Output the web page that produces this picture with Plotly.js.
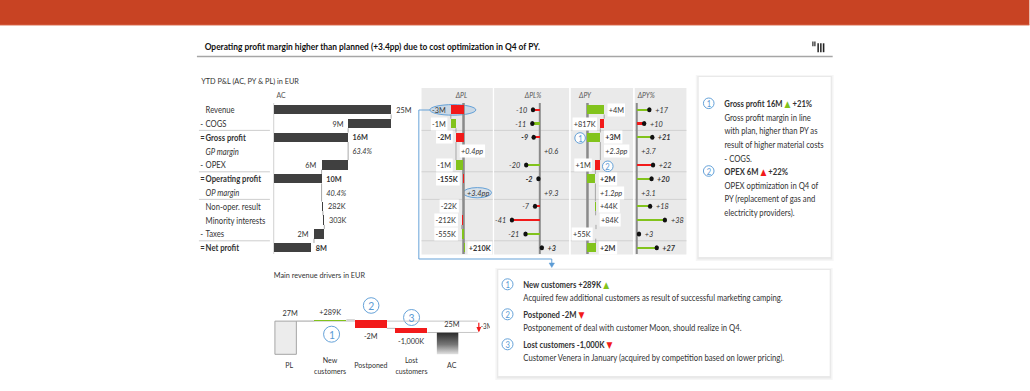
<!DOCTYPE html>
<html><head><meta charset="utf-8">
<script src="https://cdn.plot.ly/plotly-3.0.1.min.js"></script>
<style>html,body{margin:0;padding:0;background:#fff;overflow:hidden;width:1030px;height:391px}#chart{height:391px;transform-origin:0 0}</style>
</head><body><div id="chart"></div>
<script>
// ================= DATA =================
const titleText = 'Operating profit margin higher than planned (+3.4pp) due to cost optimization in Q4 of PY.';
const tableTitle = 'YTD P&L (AC, PY & PL) in EUR';
const colHeaders = ['AC', 'ΔPL', 'ΔPL%', 'ΔPY', 'ΔPY%'];

const rowNames  = ['Revenue','COGS','Gross profit','GP margin','OPEX','Operating profit','OP margin','Non-oper. result','Minority interests','Taxes','Net profit'];
const rowPrefix = ['','-','=','','-','=','','','','-','='];
const rowKind   = ['rel','rel','total','margin','rel','total','margin','rel','rel','rel','total'];
const rowSign   = [1,-1,1,0,-1,1,0,1,1,-1,1];

const acValues  = [24.96, 9.13, 15.83, 63.4, 5.64, 10.19, 40.4, 0.282, 0.303, 2.2, 8.0];
const acLabels  = ['25M','9M','16M','63.4%','6M','10M','40.4%','282K','303K','2M','8M'];

const dPlValues = [-2.7, -1.1, -1.6, 0.4, -1.445, -0.155, 3.4, -0.022, -0.212, -0.555, 0.21];
const dPlLabels = ['-3M','-1M','-2M','+0.4pp','-1M','-155K','+3.4pp','-22K','-212K','-555K','+210K'];
const dPlPct    = [-10, -11, -9, 0.6, -20, -2, 9.3, -7, -41, -21, 3];
const dPlPctLabels = ['-10','-11','-9','+0.6','-20','-2','+9.3','-7','-41','-21','+3'];

const dPyValues = [3.55, 0.817, 2.73, 2.3, 1.05, 1.68, 1.2, 0.044, 0.084, 0.055, 1.72];
const dPyLabels = ['+4M','+817K','+3M','+2.3pp','+1M','+2M','+1.2pp','+44K','+84K','+55K','+2M'];
const dPyPct    = [17, 10, 21, 3.7, 22, 20, 3.1, 18, 38, 3, 27];
const dPyPctLabels = ['+17','+10','+21','+3.7','+22','+20','+3.1','+18','+38','+3','+27'];

const drvTitle  = 'Main revenue drivers in EUR';
const drvCats   = ['PL','New<br>customers','Postponed','Lost<br>customers','AC'];
const drvKind   = ['total','rel','rel','rel','total'];
const drvValues = [27.3, 0.289, -2.0, -1.0, 24.6];
const drvLabels = ['27M','+289K','-2M','-1,000K','25M'];
const drvDiffLabel = '-3M';

const note1Head = ['<b>Gross profit 16M</b> <span style="color:#82c31c">▲</span> <b>+21%</b>', '<b>OPEX 6M</b> <span style="color:#f21a1a">▲</span> <b>+22%</b>'];
const note1Body = [['Gross profit margin in line','with plan, higher than PY as','result of higher material costs','- COGS.'],
                   ['OPEX optimization in Q4 of','PY (replacement of gas and','electricity providers).']];
const note2Head = ['<b>New customers +289K</b> <span style="color:#82c31c">▲</span>',
                   '<b>Postponed -2M</b> <span style="color:#f21a1a">▼</span>',
                   '<b>Lost customers -1,000K</b> <span style="color:#f21a1a">▼</span>'];
const note2Body = ['Acquired few additional customers as result of successful marketing camping.',
                   'Postponement of deal with customer Moon, should realize in Q4.',
                   'Customer Venera in January (acquired by competition based on lower pricing).'];

// ================= FONT CALIBRATION =================
const W = 1030, H = 391;
const ctx = document.createElement('canvas').getContext('2d');
function wid(t, f){ ctx.font = f; return ctx.measureText(t).width; }
function has(name){ const s = 'mmmmmmmmmmlliWWQQ0123abc'; return wid(s, `40px "${name}", monospace`) !== wid(s, '40px monospace'); }
const FAM = ['Lato','Open Sans','Liberation Sans'].find(has) || 'Liberation Sans';
const FCSS = `"${FAM}", "DejaVu Sans", sans-serif`;
const BODY = 8.8;
const S = Math.min(1, 260 / wid(note2Body[0], `${BODY}px ${FCSS}`));
const TITLE = 10 * (336 / S) / wid(titleText, `bold 10px ${FCSS}`);
const FS_VAL = BODY * 0.95;
const PW = W / S;
const sx = v => v / S;

// ================= HELPERS =================
const X = p => p / W, Y = p => 1 - p / H;
const GREEN = '#82c31c', RED = '#f21a1a', BLUE = '#5b9bd5', DARK = '#404040', TXT = '#333333';

const traces = [], shapes = [], anns = [];
function rect(x0, y0, x1, y1, fill, line){ shapes.push({type:'rect', xref:'paper', yref:'paper', x0:X(x0), x1:X(x1), y0:Y(y1), y1:Y(y0), fillcolor:fill, line: line || {width:0}, layer:'below'}); }
function pline(x0, y0, x1, y1, color, width){ shapes.push({type:'line', xref:'paper', yref:'paper', x0:X(x0), y0:Y(y0), x1:X(x1), y1:Y(y1), line:{color, width}, layer:'below'}); }
function T(px, py, text, o){ anns.push(Object.assign({xref:'paper', yref:'paper', x:X(px), y:Y(py), text, showarrow:false, xanchor:'left', yanchor:'middle', font:{size:BODY, color:TXT}}, o || {})); }
function circNum(cx, cy, r, num, fs){
  shapes.push({type:'circle', xref:'paper', yref:'paper', x0:X(cx - r), x1:X(cx + r), y0:Y(cy + r), y1:Y(cy - r), line:{color:BLUE, width:1}, fillcolor:'rgba(255,255,255,0.9)', layer:'below'});
  T(cx, cy, String(num), {xanchor:'center', font:{size:fs, color:BLUE}});
}
function hAxis(pxL, pxR, pxZero, ppu){ return {domain:[X(pxL), X(pxR)], range:[(pxL - pxZero) / ppu, (pxR - pxZero) / ppu], visible:false, fixedrange:true, anchor:'y'}; }

// ================= PAGE DECORATION =================
rect(0, 0, W, 25, '#c84323');
pline(0, 25, W, 25, '#d8674a', 1);
T(203, 46, `<b>${titleText}</b>`, {font:{size:TITLE, color:'#111'}});
pline(197, 56.5, 833, 56.5, '#a6a6a6', 1.5);
[[812.6,41.5,813.8,46.3],[814.6,41.5,815.8,46.3],[817.7,43.3,819.2,52.2],[820.4,43.3,821.9,52.2],[823.1,43.3,824.7,52.2]].forEach(r => rect(r[0], r[1], r[2], r[3], '#222'));

const panels = [[421.7,493],[494.3,569.3],[571,633.3],[635,686.7]];
panels.forEach(p => rect(p[0], 88, p[1], 254.5, '#eaeaea'));

const SEP = [1.5, 4.5, 6.5, 9.5];
SEP.forEach(s => {
  shapes.push({type:'line', xref:'paper', yref:'y', x0:X(199), x1:X(270), y0:s, y1:s, line:{color:'#c9c9c9', width:1}, layer:'below'});
  panels.forEach(p => shapes.push({type:'line', xref:'paper', yref:'y', x0:X(p[0]), x1:X(p[1]), y0:s, y1:s, line:{color:'#cfcfcf', width:1}, layer:'below'}));
});

shapes.push({type:'circle', xref:'paper', yref:'paper', x0:X(430), x1:X(476), y0:Y(115.2), y1:Y(104.6), line:{color:BLUE, width:1}, fillcolor:'rgba(91,155,213,0.22)', layer:'below'});
shapes.push({type:'circle', xref:'paper', yref:'paper', x0:X(463.3), x1:X(491.7), y0:Y(197.8), y1:Y(187.6), line:{color:BLUE, width:1}, fillcolor:'rgba(91,155,213,0.12)', layer:'below'});
shapes.push({type:'path', xref:'paper', yref:'paper', path:`M ${X(430)},${Y(110)} L ${X(419)},${Y(110)} L ${X(419)},${Y(259)} L ${X(552)},${Y(259)} L ${X(552)},${Y(263)}`, line:{color:BLUE, width:1}, layer:'below'});
shapes.push({type:'path', xref:'paper', yref:'paper', path:`M ${X(549.3)},${Y(263)} L ${X(554.7)},${Y(263)} L ${X(552)},${Y(267.5)} Z`, fillcolor:BLUE, line:{color:BLUE, width:0.5}, layer:'below'});

function card(x0, y0, x1, y1){
  rect(x0 - 3, y0 - 2, x1 + 3, y1 + 4, 'rgba(0,0,0,0.035)');
  rect(x0 - 1.5, y0 - 1, x1 + 1.5, y1 + 2.5, 'rgba(0,0,0,0.05)');
  rect(x0, y0, x1, y1, '#ffffff');
}
card(699, 77, 831, 257);
card(498.5, 270, 830, 376);

// ================= HEADERS / ROW LABELS =================
T(199.3, 80.7, tableTitle, {font:{size:BODY * 0.95, color:TXT}});
T(275, 95, colHeaders[0], {font:{size:BODY * 0.9, color:'#555'}});
[[461, 1], [533, 2], [585, 3], [646, 4]].forEach(h => T(h[0], 95, `<i>${colHeaders[h[1]]}</i>`, {xanchor:'center', font:{size:BODY * 0.88, color:'#555'}}));

rowNames.forEach((n, i) => {
  const k = rowKind[i];
  const txt = k === 'total' ? `<b>${n}</b>` : (k === 'margin' ? `<i>${n}</i>` : n);
  anns.push({xref:'paper', yref:'y', x:X(204), y:i, text:txt, showarrow:false, xanchor:'left', yanchor:'middle', font:{size:BODY, color:TXT}});
  if (rowPrefix[i]) anns.push({xref:'paper', yref:'y', x:X(198.4), y:i, text: k === 'total' ? `<b>${rowPrefix[i]}</b>` : rowPrefix[i], showarrow:false, xanchor:'left', yanchor:'middle', font:{size:BODY, color:TXT}});
});

// ================= ROW WATERFALLS =================
function rowWaterfall(values){
  let run = 0;
  return values.map((v, i) => {
    const k = rowKind[i];
    if (k === 'margin') return {i, margin:true, at:run};
    let base, end, eff;
    if (k === 'total') { base = 0; end = v; eff = v; }
    else { eff = rowSign[i] * v; base = run; end = run + eff; }
    run = end;
    return {i, v, base, end, eff};
  });
}
const BAR_H = 0.69;
function wfBars(wf, xa, colorFn){
  const r = wf.filter(d => !d.margin);
  traces.push({type:'bar', orientation:'h', xaxis:xa, yaxis:'y', y:r.map(d => d.i), x:r.map(d => d.end - d.base), base:r.map(d => d.base),
    width:BAR_H, marker:{color:r.map(colorFn), line:{width:0}}, hoverinfo:'skip'});
  for (let k = 0; k < r.length - 1; k++) {
    const a = r[k], b = r[k + 1];
    shapes.push({type:'line', xref:xa, yref:'y', x0:a.end, x1:a.end, y0:a.i + BAR_H / 2, y1:b.i - BAR_H / 2, line:{color:'#9a9a9a', width:sx(0.8)}, layer:'below'});
  }
}
function wfLabels(wf, labels, xa, mode, noBg){
  wf.forEach(d => {
    const lab = labels[d.i];
    const clear = mode === 'ac' || (noBg && noBg.includes(d.i));
    const common = {xref:xa, yref:'y', y:d.i, showarrow:false, yanchor:'middle', borderpad:1,
      bgcolor: clear ? 'rgba(0,0,0,0)' : '#ffffff', font:{size:FS_VAL, color:TXT}};
    if (d.margin) { anns.push(Object.assign(common, {x:d.at, xanchor:'left', xshift:sx(3), text:`<i>${lab}</i>`})); return; }
    const total = rowKind[d.i] === 'total';
    const left = mode === 'ac' ? (!total && d.eff < 0) : (d.v < 0 || d.eff < 0);
    anns.push(Object.assign(common, {x: left ? Math.min(d.base, d.end) : Math.max(d.base, d.end), xanchor: left ? 'right' : 'left',
      xshift: sx(left ? -3 : 3), text: total ? `<b>${lab}</b>` : lab}));
  });
}
function zeroLine(xa, color, width){
  shapes.push({type:'line', xref:xa, yref:'paper', x0:0, x1:0, y0:Y(254), y1:Y(103), line:{color, width:sx(width)}, layer:'below'});
}

const acWf = rowWaterfall(acValues);
zeroLine('x', '#9a9a9a', 1);
wfBars(acWf, 'x', () => DARK);
wfLabels(acWf, acLabels, 'x', 'ac');

const plWf = rowWaterfall(dPlValues);
zeroLine('x2', '#8a8a8a', 2.5);
wfBars(plWf, 'x2', d => d.eff >= 0 ? GREEN : RED);
wfLabels(plWf, dPlLabels, 'x2', 'd', [0, 6]);

const pyWf = rowWaterfall(dPyValues);
zeroLine('x4', '#8a8a8a', 2.5);
wfBars(pyWf, 'x4', d => d.eff >= 0 ? GREEN : RED);
wfLabels(pyWf, dPyLabels, 'x4', 'd');

function lolli(vals, labels, xa){
  zeroLine(xa, '#8a8a8a', 2);
  const pts = vals.map((v, i) => ({v, i})).filter(d => rowKind[d.i] !== 'margin');
  const eff = d => rowKind[d.i] === 'total' ? d.v : rowSign[d.i] * d.v;
  traces.push({type:'bar', orientation:'h', xaxis:xa, yaxis:'y', y:pts.map(d => d.i), x:pts.map(d => d.v), base:0, width:0.15,
    marker:{color:pts.map(d => eff(d) >= 0 ? GREEN : RED), line:{width:0}}, hoverinfo:'skip'});
  traces.push({type:'scatter', mode:'markers', xaxis:xa, yaxis:'y', y:pts.map(d => d.i), x:pts.map(d => d.v),
    marker:{size:5, color:'#111'}, hoverinfo:'skip'});
  vals.forEach((v, i) => {
    const k = rowKind[i];
    if (k === 'margin') { anns.push({xref:xa, yref:'y', x:0, y:i, xanchor:'left', xshift:sx(3), yanchor:'middle', showarrow:false, text:`<i>${labels[i]}</i>`, font:{size:FS_VAL, color:TXT}}); return; }
    const t = k === 'total' ? `<b><i>${labels[i]}</i></b>` : `<i>${labels[i]}</i>`;
    anns.push({xref:xa, yref:'y', x:v, y:i, xanchor: v < 0 ? 'right' : 'left', xshift: sx(v < 0 ? -4 : 4), yanchor:'middle', showarrow:false, text:t, font:{size:FS_VAL, color:TXT}});
  });
}
lolli(dPlPct, dPlPctLabels, 'x3');
lolli(dPyPct, dPyPctLabels, 'x5');

circNum(580.3, 138, 5.3, 1, BODY);
circNum(608, 166.3, 5.3, 2, BODY);

circNum(709, 103.3, 5.3, 1, BODY);
T(722.7, 103.3, note1Head[0]);
note1Body[0].forEach((l, j) => T(722.7, 117.2 + j * 13.7, l));
circNum(709, 171, 5.3, 2, BODY);
T(722.7, 171, note1Head[1]);
note1Body[1].forEach((l, j) => T(722.7, 185 + j * 13.7, l));

[284.3, 314.3, 344.3].forEach((y, j) => {
  circNum(507.7, y, 5.5, j + 1, BODY);
  T(521.7, y, note2Head[j]);
  T(521.7, y + 13.6, note2Body[j]);
});

// ================= DRIVERS WATERFALL =================
const DRV_PX0 = 290, DRV_PPU = 40.5;
const idx = px => (px - DRV_PX0) / DRV_PPU;
const DRV_MIN = 19.0, DRV_YPX = 4.2, DRV_BASE = 19.4;
const TOT_OFF = -0.37, TOT_W = 0.53, REL_W = 0.79;
T(272.3, 274.5, drvTitle, {font:{size:BODY * 0.95, color:TXT}});

let run = 0;
const drv = drvValues.map((v, i) => {
  let d;
  if (drvKind[i] === 'total') { d = {i, base:DRV_BASE, end:v, eff:v, total:true}; run = v; }
  else { d = {i, base:run, end:run + v, eff:v}; run += v; }
  return d;
});
const relD = drv.filter(d => !d.total);
traces.push({type:'bar', xaxis:'x6', yaxis:'y6', x:relD.map(d => d.i), y:relD.map(d => d.end - d.base), base:relD.map(d => d.base),
  width:REL_W, marker:{color:relD.map(d => d.eff >= 0 ? GREEN : RED), line:{width:0}}, hoverinfo:'skip'});
const plD = drv[0], acD = drv[drv.length - 1];
traces.push({type:'bar', xaxis:'x6', yaxis:'y6', x:[plD.i], y:[plD.end - plD.base], base:[plD.base], width:TOT_W, offset:TOT_OFF,
  marker:{color:'#ececec', line:{color:'#a0a0a0', width:1}}, hoverinfo:'skip'});
const ax0 = acD.i + TOT_OFF, ax1 = acD.i + TOT_OFF + TOT_W;
traces.push({type:'scatter', mode:'lines', xaxis:'x6', yaxis:'y6', x:[ax0, ax1, ax1, ax0, ax0], y:[acD.base, acD.base, acD.end, acD.end, acD.base],
  fill:'toself', fillgradient:{type:'vertical', colorscale:[[0,'#e2e2e2'],[0.45,'#777777'],[1,'#2a2a2a']], start:acD.base, stop:acD.end},
  line:{width:0, color:'rgba(0,0,0,0)'}, hoverinfo:'skip'});
const leftEdge = d => d.total ? d.i + TOT_OFF : d.i - REL_W / 2;
const rightEdge = d => d.total ? d.i + TOT_OFF + TOT_W : d.i + REL_W / 2;
for (let k = 0; k < drv.length - 1; k++) {
  shapes.push({type:'line', xref:'x6', yref:'y6', x0:rightEdge(drv[k]), x1:leftEdge(drv[k + 1]), y0:drv[k].end, y1:drv[k].end, line:{color:'#b5b5b5', width:1}, layer:'below'});
}
shapes.push({type:'line', xref:'x6', yref:'y6', x0:rightEdge(plD), x1:idx(478), y0:plD.end, y1:plD.end, line:{color:'#c2c2c2', width:1}, layer:'below'});
shapes.push({type:'line', xref:'x6', yref:'y6', x0:rightEdge(acD), x1:idx(478), y0:acD.end, y1:acD.end, line:{color:'#c2c2c2', width:1}, layer:'below'});
anns.push({xref:'x6', yref:'y6', axref:'x6', ayref:'y6', x:idx(479), y:acD.end, ax:idx(479), ay:plD.end, showarrow:true, arrowhead:2, arrowsize:0.8, arrowwidth:sx(1.2), arrowcolor:RED, text:'', standoff:0});
traces.push({type:'scatter', mode:'text', xaxis:'x6', yaxis:'y6', x:[idx(481)], y:[(plD.end + acD.end) / 2], text:[drvDiffLabel], textposition:'middle right',
  textfont:{size:BODY * 0.8, color:TXT, family:FCSS}, cliponaxis:true, hoverinfo:'skip'});
drv.forEach(d => {
  const up = d.eff >= 0;
  anns.push({xref:'x6', yref:'y6', x:d.i, y: up ? Math.max(d.base, d.end) : Math.min(d.base, d.end), yanchor: up ? 'bottom' : 'top', yshift: up ? 1 : -1,
    showarrow:false, text:drvLabels[d.i], font:{size:FS_VAL, color:TXT}});
  anns.push({xref:'x6', yref:'paper', x:d.i, y:Y(365.3), yanchor:'middle', showarrow:false, text:drvCats[d.i], font:{size:BODY * 0.92, color:TXT}});
});
circNum(331.7, 334.2, 8, 1, BODY * 1.35);
circNum(371.3, 305.5, 7.8, 2, BODY * 1.35);
circNum(411.7, 317.5, 8, 3, BODY * 1.35);

// ================= LAYOUT =================
const layout = {
  width:PW, height:H, margin:{l:0, r:0, t:0, b:0}, paper_bgcolor:'#ffffff', plot_bgcolor:'rgba(0,0,0,0)',
  font:{family:FCSS, size:BODY, color:TXT}, showlegend:false, barmode:'overlay', bargap:0,
  xaxis: hAxis(273.7, 419, 273.7, 4.71),
  xaxis2: hAxis(421.7, 493, 463.7, 4.71),
  xaxis3: hAxis(494.3, 569.3, 540, 0.68),
  xaxis4: hAxis(571, 633.3, 587.7, 4.71),
  xaxis5: hAxis(635, 686.7, 637, 0.74),
  yaxis: {domain:[Y(254.6), Y(102.8)], range:[10.5, -0.5], visible:false, fixedrange:true, anchor:'x'},
  xaxis6: {domain:[X(270), X(490)], range:[idx(270), idx(490)], visible:false, fixedrange:true, anchor:'y6'},
  yaxis6: {domain:[Y(356), Y(300)], range:[DRV_MIN, DRV_MIN + 56 / DRV_YPX], visible:false, fixedrange:true, anchor:'x6'},
  shapes, annotations:anns
};
const el = document.getElementById('chart');
el.style.width = PW + 'px';
el.style.transform = `scaleX(${S})`;
Plotly.newPlot(el, traces, layout, {staticPlot:true, displayModeBar:false});
</script></body></html>
